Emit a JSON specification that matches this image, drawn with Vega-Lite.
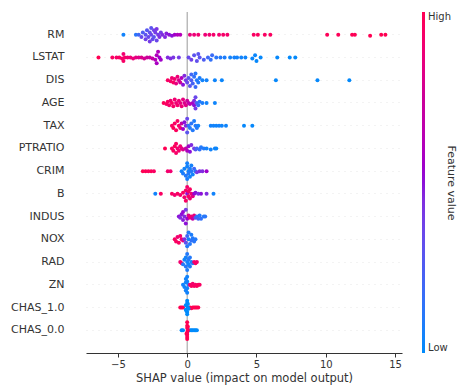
{
"$schema":"https://vega.github.io/schema/vega-lite/v6.json",
"width":316,"height":341,"autosize":"none",
"padding":{"left":86,"top":12,"right":72,"bottom":35},
"config":{"view":{"stroke":null},"font":"DejaVu Sans"},
"layer":[
{"data":{"values":[{}]},"mark":{"type":"rule","color":"#999999","strokeWidth":1},"encoding":{"x":{"datum":0,"type":"quantitative"}}},
{"data":{"values":[
{"f":"RM","s":-4.6,"v":0.05,"o":0},{"f":"RM","s":-3.7,"v":0.12,"o":0},{"f":"RM","s":-3.5,"v":0.2,"o":0},{"f":"RM","s":-3.3,"v":0.35,"o":0.1},{"f":"RM","s":-3.2,"v":0.25,"o":-0.1},{"f":"RM","s":-3.0,"v":0.3,"o":0},{"f":"RM","s":-3.0,"v":0.38,"o":0.2},{"f":"RM","s":-2.9,"v":0.28,"o":-0.2},{"f":"RM","s":-2.8,"v":0.35,"o":0.1},{"f":"RM","s":-2.7,"v":0.32,"o":-0.1},{"f":"RM","s":-2.7,"v":0.4,"o":0.3},{"f":"RM","s":-2.6,"v":0.3,"o":-0.3},{"f":"RM","s":-2.6,"v":0.36,"o":0},{"f":"RM","s":-2.5,"v":0.34,"o":0.2},{"f":"RM","s":-2.4,"v":0.38,"o":-0.2},{"f":"RM","s":-2.4,"v":0.3,"o":0.1},{"f":"RM","s":-2.3,"v":0.4,"o":-0.1},{"f":"RM","s":-2.2,"v":0.36,"o":0.25},{"f":"RM","s":-2.2,"v":0.42,"o":-0.25},{"f":"RM","s":-2.1,"v":0.4,"o":0},{"f":"RM","s":-2.0,"v":0.44,"o":0.1},{"f":"RM","s":-1.9,"v":0.4,"o":-0.1},{"f":"RM","s":-1.8,"v":0.45,"o":0},{"f":"RM","s":-1.6,"v":0.46,"o":0.1},{"f":"RM","s":-1.5,"v":0.48,"o":-0.05},{"f":"RM","s":-1.3,"v":0.5,"o":0},{"f":"RM","s":-1.1,"v":0.5,"o":0.05},{"f":"RM","s":-0.9,"v":0.55,"o":0},{"f":"RM","s":-0.7,"v":0.6,"o":0},{"f":"RM","s":-0.5,"v":0.62,"o":0},
{"f":"RM","s":0.2,"v":0.85,"o":0},{"f":"RM","s":0.5,"v":0.88,"o":0},{"f":"RM","s":0.8,"v":0.9,"o":0},{"f":"RM","s":1.3,"v":0.88,"o":0},{"f":"RM","s":1.6,"v":0.9,"o":0},{"f":"RM","s":1.9,"v":0.92,"o":0},{"f":"RM","s":2.3,"v":0.9,"o":0},{"f":"RM","s":2.6,"v":0.93,"o":0},{"f":"RM","s":2.9,"v":0.92,"o":0},{"f":"RM","s":4.8,"v":0.95,"o":0},{"f":"RM","s":5.1,"v":0.96,"o":0},{"f":"RM","s":5.6,"v":0.95,"o":0},{"f":"RM","s":6.0,"v":0.96,"o":0},{"f":"RM","s":10.1,"v":0.98,"o":0},{"f":"RM","s":10.9,"v":0.98,"o":0},{"f":"RM","s":11.9,"v":0.99,"o":0},{"f":"RM","s":12.1,"v":0.99,"o":0},{"f":"RM","s":13.2,"v":1,"o":0.05},{"f":"RM","s":14.0,"v":1,"o":0},{"f":"RM","s":14.3,"v":1,"o":0},
{"f":"LSTAT","s":-6.4,"v":1,"o":0},{"f":"LSTAT","s":-5.4,"v":0.95,"o":0},{"f":"LSTAT","s":-5.1,"v":0.93,"o":0},{"f":"LSTAT","s":-4.9,"v":0.95,"o":0},{"f":"LSTAT","s":-4.7,"v":0.92,"o":0.05},{"f":"LSTAT","s":-4.6,"v":0.94,"o":0.15},{"f":"LSTAT","s":-4.6,"v":0.9,"o":-0.15},{"f":"LSTAT","s":-4.5,"v":0.93,"o":0},{"f":"LSTAT","s":-4.3,"v":0.9,"o":0},{"f":"LSTAT","s":-4.1,"v":0.88,"o":0},{"f":"LSTAT","s":-3.9,"v":0.87,"o":0.05},{"f":"LSTAT","s":-3.7,"v":0.85,"o":0},{"f":"LSTAT","s":-3.5,"v":0.82,"o":0},{"f":"LSTAT","s":-3.3,"v":0.8,"o":0},{"f":"LSTAT","s":-3.1,"v":0.78,"o":0.05},{"f":"LSTAT","s":-2.9,"v":0.75,"o":0},{"f":"LSTAT","s":-2.7,"v":0.72,"o":0},{"f":"LSTAT","s":-2.5,"v":0.7,"o":0.05},{"f":"LSTAT","s":-2.3,"v":0.62,"o":0.1},{"f":"LSTAT","s":-2.2,"v":0.6,"o":-0.1},{"f":"LSTAT","s":-2.2,"v":0.58,"o":0.25},{"f":"LSTAT","s":-2.1,"v":0.6,"o":-0.25},{"f":"LSTAT","s":-2.0,"v":0.55,"o":0},{"f":"LSTAT","s":-1.9,"v":0.55,"o":0.1},{"f":"LSTAT","s":-1.4,"v":0.45,"o":0},{"f":"LSTAT","s":-1.2,"v":0.45,"o":0.05},{"f":"LSTAT","s":-1.0,"v":0.42,"o":0},{"f":"LSTAT","s":-0.6,"v":0.4,"o":0},
{"f":"LSTAT","s":0.1,"v":0.35,"o":0},{"f":"LSTAT","s":0.3,"v":0.38,"o":0.1},{"f":"LSTAT","s":0.5,"v":0.3,"o":-0.1},{"f":"LSTAT","s":0.7,"v":0.32,"o":0.15},{"f":"LSTAT","s":0.8,"v":0.3,"o":-0.15},{"f":"LSTAT","s":0.9,"v":0.3,"o":0},{"f":"LSTAT","s":1.2,"v":0.25,"o":0.1},{"f":"LSTAT","s":1.5,"v":0.2,"o":0},{"f":"LSTAT","s":1.7,"v":0.15,"o":0.1},{"f":"LSTAT","s":1.8,"v":0.18,"o":-0.1},{"f":"LSTAT","s":2.1,"v":0.12,"o":0},{"f":"LSTAT","s":2.4,"v":0.1,"o":0},{"f":"LSTAT","s":2.7,"v":0.08,"o":0},{"f":"LSTAT","s":3.1,"v":0.05,"o":0},{"f":"LSTAT","s":3.4,"v":0.06,"o":0},{"f":"LSTAT","s":3.6,"v":0.05,"o":0},{"f":"LSTAT","s":3.9,"v":0.05,"o":0},{"f":"LSTAT","s":4.2,"v":0.04,"o":0},{"f":"LSTAT","s":4.7,"v":0.03,"o":0.05},{"f":"LSTAT","s":4.9,"v":0.03,"o":-0.1},{"f":"LSTAT","s":5.0,"v":0.02,"o":0.15},{"f":"LSTAT","s":5.3,"v":0.02,"o":0},{"f":"LSTAT","s":6.5,"v":0.02,"o":0},{"f":"LSTAT","s":7.4,"v":0.01,"o":0},{"f":"LSTAT","s":7.8,"v":0.01,"o":0},
{"f":"DIS","s":-1.4,"v":0.95,"o":0},{"f":"DIS","s":-1.2,"v":0.92,"o":0.05},{"f":"DIS","s":-1.1,"v":0.9,"o":-0.1},{"f":"DIS","s":-1.0,"v":0.95,"o":0.1},{"f":"DIS","s":-0.9,"v":0.9,"o":-0.05},{"f":"DIS","s":-0.8,"v":0.85,"o":0.15},{"f":"DIS","s":-0.7,"v":0.88,"o":-0.15},{"f":"DIS","s":-0.6,"v":0.8,"o":0},{"f":"DIS","s":-0.5,"v":0.75,"o":0.1},{"f":"DIS","s":-0.4,"v":0.6,"o":-0.1},{"f":"DIS","s":-0.3,"v":0.5,"o":0.2},{"f":"DIS","s":-0.2,"v":0.45,"o":-0.2},{"f":"DIS","s":-0.1,"v":0.4,"o":0},{"f":"DIS","s":0.0,"v":0.35,"o":0.1},{"f":"DIS","s":0.1,"v":0.3,"o":-0.1},{"f":"DIS","s":0.2,"v":0.3,"o":0.25},{"f":"DIS","s":0.3,"v":0.2,"o":-0.25},{"f":"DIS","s":0.3,"v":0.25,"o":0},{"f":"DIS","s":0.4,"v":0.22,"o":0.15},{"f":"DIS","s":0.5,"v":0.15,"o":-0.15},{"f":"DIS","s":0.6,"v":0.18,"o":0.3},{"f":"DIS","s":0.6,"v":0.12,"o":-0.3},{"f":"DIS","s":0.7,"v":0.1,"o":0},{"f":"DIS","s":0.8,"v":0.1,"o":0.1},{"f":"DIS","s":0.9,"v":0.08,"o":-0.1},{"f":"DIS","s":1.1,"v":0.05,"o":0},{"f":"DIS","s":1.4,"v":0.05,"o":0},{"f":"DIS","s":2.0,"v":0.04,"o":0},{"f":"DIS","s":2.5,"v":0.03,"o":0},{"f":"DIS","s":6.4,"v":0.02,"o":0},{"f":"DIS","s":9.4,"v":0.02,"o":0},{"f":"DIS","s":11.7,"v":0.01,"o":0},
{"f":"AGE","s":-1.7,"v":0.98,"o":0},{"f":"AGE","s":-1.5,"v":0.95,"o":0.05},{"f":"AGE","s":-1.4,"v":0.95,"o":-0.05},{"f":"AGE","s":-1.3,"v":0.92,"o":0.1},{"f":"AGE","s":-1.2,"v":0.9,"o":-0.1},{"f":"AGE","s":-1.1,"v":0.95,"o":0},{"f":"AGE","s":-1.0,"v":0.93,"o":0.15},{"f":"AGE","s":-0.9,"v":0.9,"o":-0.15},{"f":"AGE","s":-0.8,"v":0.88,"o":0},{"f":"AGE","s":-0.7,"v":0.92,"o":0.1},{"f":"AGE","s":-0.6,"v":0.9,"o":-0.1},{"f":"AGE","s":-0.5,"v":0.85,"o":0},{"f":"AGE","s":-0.4,"v":0.88,"o":0.15},{"f":"AGE","s":-0.3,"v":0.85,"o":-0.15},{"f":"AGE","s":-0.2,"v":0.8,"o":0},{"f":"AGE","s":-0.1,"v":0.82,"o":0.1},{"f":"AGE","s":0.0,"v":0.75,"o":-0.1},{"f":"AGE","s":0.1,"v":0.7,"o":0},{"f":"AGE","s":0.2,"v":0.65,"o":0.05},{"f":"AGE","s":0.4,"v":0.6,"o":0},{"f":"AGE","s":0.5,"v":0.5,"o":0.1},{"f":"AGE","s":0.5,"v":0.45,"o":-0.1},{"f":"AGE","s":0.6,"v":0.4,"o":0.25},{"f":"AGE","s":0.6,"v":0.35,"o":-0.25},{"f":"AGE","s":0.7,"v":0.2,"o":0},{"f":"AGE","s":0.8,"v":0.15,"o":0.1},{"f":"AGE","s":0.9,"v":0.1,"o":-0.05},{"f":"AGE","s":1.1,"v":0.08,"o":0},{"f":"AGE","s":1.4,"v":0.05,"o":0},{"f":"AGE","s":2.0,"v":0.04,"o":0},
{"f":"TAX","s":-1.1,"v":0.95,"o":0},{"f":"TAX","s":-1.0,"v":0.98,"o":0.1},{"f":"TAX","s":-0.9,"v":0.95,"o":-0.1},{"f":"TAX","s":-0.8,"v":0.97,"o":0.2},{"f":"TAX","s":-0.7,"v":0.95,"o":-0.2},{"f":"TAX","s":-0.6,"v":0.93,"o":0},{"f":"TAX","s":-0.5,"v":0.9,"o":0.1},{"f":"TAX","s":-0.4,"v":0.7,"o":-0.1},{"f":"TAX","s":-0.3,"v":0.55,"o":0.15},{"f":"TAX","s":-0.2,"v":0.5,"o":-0.15},{"f":"TAX","s":-0.1,"v":0.45,"o":0},{"f":"TAX","s":0.0,"v":0.3,"o":0.3},{"f":"TAX","s":0.0,"v":0.35,"o":-0.3},{"f":"TAX","s":0.1,"v":0.15,"o":0},{"f":"TAX","s":0.2,"v":0.1,"o":0.1},{"f":"TAX","s":0.3,"v":0.12,"o":-0.1},{"f":"TAX","s":0.4,"v":0.1,"o":0.2},{"f":"TAX","s":0.5,"v":0.08,"o":-0.2},{"f":"TAX","s":0.6,"v":0.1,"o":0},{"f":"TAX","s":0.7,"v":0.1,"o":0.1},{"f":"TAX","s":0.8,"v":0.05,"o":0},{"f":"TAX","s":1.7,"v":0.05,"o":0},{"f":"TAX","s":1.9,"v":0.05,"o":0},{"f":"TAX","s":2.1,"v":0.04,"o":0},{"f":"TAX","s":2.3,"v":0.05,"o":0},{"f":"TAX","s":2.5,"v":0.04,"o":0},{"f":"TAX","s":2.8,"v":0.04,"o":0},{"f":"TAX","s":4.1,"v":0.02,"o":0},{"f":"TAX","s":4.7,"v":0.02,"o":0},
{"f":"PTRATIO","s":-1.6,"v":1,"o":0},{"f":"PTRATIO","s":-1.1,"v":0.95,"o":0},{"f":"PTRATIO","s":-1.0,"v":0.95,"o":0.1},{"f":"PTRATIO","s":-0.9,"v":0.98,"o":-0.1},{"f":"PTRATIO","s":-0.8,"v":0.93,"o":0.2},{"f":"PTRATIO","s":-0.8,"v":0.95,"o":-0.2},{"f":"PTRATIO","s":-0.7,"v":0.9,"o":0},{"f":"PTRATIO","s":-0.6,"v":0.92,"o":0.1},{"f":"PTRATIO","s":-0.5,"v":0.9,"o":-0.1},{"f":"PTRATIO","s":-0.4,"v":0.85,"o":0},{"f":"PTRATIO","s":-0.3,"v":0.8,"o":0.05},{"f":"PTRATIO","s":-0.1,"v":0.7,"o":0},{"f":"PTRATIO","s":0.0,"v":0.6,"o":0.1},{"f":"PTRATIO","s":0.1,"v":0.55,"o":-0.1},{"f":"PTRATIO","s":0.2,"v":0.5,"o":0.15},{"f":"PTRATIO","s":0.3,"v":0.45,"o":-0.15},{"f":"PTRATIO","s":0.5,"v":0.4,"o":0},{"f":"PTRATIO","s":0.6,"v":0.3,"o":0.05},{"f":"PTRATIO","s":0.7,"v":0.2,"o":0},{"f":"PTRATIO","s":0.9,"v":0.15,"o":0.05},{"f":"PTRATIO","s":1.0,"v":0.1,"o":-0.05},{"f":"PTRATIO","s":1.2,"v":0.1,"o":0},{"f":"PTRATIO","s":1.4,"v":0.05,"o":0},{"f":"PTRATIO","s":1.7,"v":0.05,"o":0.05},{"f":"PTRATIO","s":2.0,"v":0.04,"o":0},{"f":"PTRATIO","s":2.1,"v":0.03,"o":0},
{"f":"CRIM","s":-3.2,"v":1,"o":0},{"f":"CRIM","s":-3.0,"v":0.98,"o":0},{"f":"CRIM","s":-2.8,"v":0.97,"o":0},{"f":"CRIM","s":-2.6,"v":0.98,"o":0},{"f":"CRIM","s":-2.4,"v":0.95,"o":0},{"f":"CRIM","s":-1.4,"v":0.92,"o":0},{"f":"CRIM","s":-1.2,"v":0.9,"o":0},{"f":"CRIM","s":-0.4,"v":0.05,"o":0},{"f":"CRIM","s":-0.3,"v":0.08,"o":0.1},{"f":"CRIM","s":-0.2,"v":0.05,"o":-0.1},{"f":"CRIM","s":-0.1,"v":0.1,"o":0.2},{"f":"CRIM","s":0.0,"v":0.05,"o":-0.2},{"f":"CRIM","s":0.0,"v":0.08,"o":0.35},{"f":"CRIM","s":0.0,"v":0.06,"o":-0.35},{"f":"CRIM","s":0.1,"v":0.05,"o":0},{"f":"CRIM","s":0.1,"v":0.1,"o":0.1},{"f":"CRIM","s":0.2,"v":0.08,"o":-0.1},{"f":"CRIM","s":0.2,"v":0.05,"o":0.25},{"f":"CRIM","s":0.3,"v":0.06,"o":-0.25},{"f":"CRIM","s":0.3,"v":0.1,"o":0},{"f":"CRIM","s":0.4,"v":0.05,"o":0.15},{"f":"CRIM","s":0.5,"v":0.2,"o":-0.1},{"f":"CRIM","s":0.6,"v":0.1,"o":0},{"f":"CRIM","s":0.7,"v":0.4,"o":0.05},{"f":"CRIM","s":0.9,"v":0.45,"o":0},{"f":"CRIM","s":1.1,"v":0.45,"o":0},{"f":"CRIM","s":1.4,"v":0.55,"o":0},
{"f":"B","s":-2.3,"v":0.05,"o":0},{"f":"B","s":-1.9,"v":0.95,"o":0},{"f":"B","s":-1.1,"v":0.95,"o":0},{"f":"B","s":-0.9,"v":0.9,"o":0.05},{"f":"B","s":-0.7,"v":0.95,"o":0},{"f":"B","s":-0.5,"v":0.92,"o":0.05},{"f":"B","s":-0.3,"v":0.95,"o":-0.05},{"f":"B","s":-0.2,"v":0.9,"o":0.15},{"f":"B","s":-0.1,"v":0.93,"o":-0.15},{"f":"B","s":-0.1,"v":0.95,"o":0.3},{"f":"B","s":0.0,"v":0.92,"o":-0.3},{"f":"B","s":0.0,"v":0.5,"o":0},{"f":"B","s":0.1,"v":0.95,"o":0.1},{"f":"B","s":0.1,"v":0.93,"o":-0.1},{"f":"B","s":0.2,"v":0.9,"o":0.2},{"f":"B","s":0.2,"v":0.95,"o":-0.2},{"f":"B","s":0.3,"v":0.9,"o":0},{"f":"B","s":0.4,"v":0.85,"o":0.1},{"f":"B","s":0.5,"v":0.55,"o":0},{"f":"B","s":0.6,"v":0.5,"o":-0.05},{"f":"B","s":0.8,"v":0.45,"o":0},{"f":"B","s":1.0,"v":0.5,"o":0},{"f":"B","s":1.4,"v":0.45,"o":0},{"f":"B","s":1.9,"v":0.05,"o":0},
{"f":"INDUS","s":-0.6,"v":0.5,"o":0},{"f":"INDUS","s":-0.5,"v":0.45,"o":0.05},{"f":"INDUS","s":-0.4,"v":0.5,"o":-0.1},{"f":"INDUS","s":-0.3,"v":0.48,"o":0.15},{"f":"INDUS","s":-0.3,"v":0.52,"o":-0.2},{"f":"INDUS","s":-0.2,"v":0.45,"o":0},{"f":"INDUS","s":-0.1,"v":0.5,"o":0.3},{"f":"INDUS","s":-0.1,"v":0.4,"o":-0.3},{"f":"INDUS","s":0.0,"v":0.55,"o":0.1},{"f":"INDUS","s":0.1,"v":0.8,"o":-0.05},{"f":"INDUS","s":0.2,"v":0.85,"o":0.05},{"f":"INDUS","s":0.3,"v":0.9,"o":0},{"f":"INDUS","s":0.4,"v":0.7,"o":0.1},{"f":"INDUS","s":0.5,"v":0.85,"o":-0.05},{"f":"INDUS","s":0.6,"v":0.3,"o":0.05},{"f":"INDUS","s":0.7,"v":0.15,"o":0},{"f":"INDUS","s":0.8,"v":0.2,"o":0.1},{"f":"INDUS","s":0.9,"v":0.1,"o":-0.05},{"f":"INDUS","s":1.0,"v":0.15,"o":0.1},{"f":"INDUS","s":1.2,"v":0.1,"o":0},{"f":"INDUS","s":1.3,"v":0.12,"o":0},
{"f":"NOX","s":-0.9,"v":0.95,"o":0},{"f":"NOX","s":-0.8,"v":0.95,"o":0.1},{"f":"NOX","s":-0.7,"v":0.9,"o":-0.1},{"f":"NOX","s":-0.6,"v":0.95,"o":0.15},{"f":"NOX","s":-0.5,"v":0.92,"o":-0.15},{"f":"NOX","s":-0.4,"v":0.9,"o":0},{"f":"NOX","s":-0.3,"v":0.85,"o":0.05},{"f":"NOX","s":-0.2,"v":0.45,"o":0},{"f":"NOX","s":-0.1,"v":0.3,"o":0.15},{"f":"NOX","s":0.0,"v":0.2,"o":-0.15},{"f":"NOX","s":0.0,"v":0.1,"o":0.3},{"f":"NOX","s":0.1,"v":0.1,"o":-0.3},{"f":"NOX","s":0.1,"v":0.05,"o":0},{"f":"NOX","s":0.2,"v":0.1,"o":0.2},{"f":"NOX","s":0.3,"v":0.08,"o":-0.2},{"f":"NOX","s":0.3,"v":0.15,"o":0.05},{"f":"NOX","s":0.4,"v":0.1,"o":-0.05},{"f":"NOX","s":0.5,"v":0.12,"o":0.1},{"f":"NOX","s":0.6,"v":0.1,"o":0},
{"f":"RAD","s":-0.5,"v":0.9,"o":0},{"f":"RAD","s":-0.4,"v":0.95,"o":0.05},{"f":"RAD","s":-0.3,"v":0.1,"o":0.1},{"f":"RAD","s":-0.2,"v":0.05,"o":-0.1},{"f":"RAD","s":-0.1,"v":0.1,"o":0.2},{"f":"RAD","s":-0.1,"v":0.05,"o":-0.2},{"f":"RAD","s":0.0,"v":0.08,"o":0.35},{"f":"RAD","s":0.0,"v":0.1,"o":-0.35},{"f":"RAD","s":0.0,"v":0.05,"o":0},{"f":"RAD","s":0.1,"v":0.05,"o":0.1},{"f":"RAD","s":0.1,"v":0.1,"o":-0.1},{"f":"RAD","s":0.2,"v":0.08,"o":0.2},{"f":"RAD","s":0.2,"v":0.1,"o":-0.2},{"f":"RAD","s":0.3,"v":0.05,"o":0},{"f":"RAD","s":0.4,"v":0.1,"o":0.05},{"f":"RAD","s":0.5,"v":0.9,"o":0},{"f":"RAD","s":0.6,"v":0.95,"o":0.05},{"f":"RAD","s":0.7,"v":0.92,"o":0},
{"f":"ZN","s":-0.3,"v":0.05,"o":0},{"f":"ZN","s":-0.2,"v":0.05,"o":0.1},{"f":"ZN","s":-0.1,"v":0.05,"o":-0.1},{"f":"ZN","s":-0.1,"v":0.05,"o":0.25},{"f":"ZN","s":-0.1,"v":0.05,"o":-0.25},{"f":"ZN","s":0.0,"v":0.05,"o":0.35},{"f":"ZN","s":0.0,"v":0.05,"o":-0.35},{"f":"ZN","s":0.0,"v":0.05,"o":0.15},{"f":"ZN","s":0.0,"v":0.05,"o":-0.15},{"f":"ZN","s":0.1,"v":0.08,"o":0},{"f":"ZN","s":0.2,"v":0.9,"o":0},{"f":"ZN","s":0.3,"v":0.95,"o":0.05},{"f":"ZN","s":0.4,"v":0.92,"o":-0.05},{"f":"ZN","s":0.5,"v":0.95,"o":0.05},{"f":"ZN","s":0.6,"v":0.93,"o":0},{"f":"ZN","s":0.7,"v":0.95,"o":0.05},{"f":"ZN","s":0.8,"v":0.98,"o":0},{"f":"ZN","s":0.9,"v":0.95,"o":0},
{"f":"CHAS_1.0","s":-0.5,"v":1,"o":0},{"f":"CHAS_1.0","s":-0.4,"v":1,"o":0},{"f":"CHAS_1.0","s":-0.3,"v":1,"o":0},{"f":"CHAS_1.0","s":0.2,"v":1,"o":0},{"f":"CHAS_1.0","s":0.3,"v":1,"o":0.03},{"f":"CHAS_1.0","s":0.4,"v":1,"o":0},{"f":"CHAS_1.0","s":0.5,"v":1,"o":0},{"f":"CHAS_1.0","s":0.6,"v":1,"o":0},{"f":"CHAS_1.0","s":0.7,"v":1,"o":0},{"f":"CHAS_1.0","s":0.8,"v":1,"o":0},
{"f":"CHAS_1.0","s":-0.1,"v":0,"o":0.1},{"f":"CHAS_1.0","s":-0.1,"v":0,"o":-0.1},{"f":"CHAS_1.0","s":0.0,"v":0,"o":0.2},{"f":"CHAS_1.0","s":0.0,"v":0,"o":-0.2},{"f":"CHAS_1.0","s":0.0,"v":0,"o":0.3},{"f":"CHAS_1.0","s":0.0,"v":0,"o":-0.3},{"f":"CHAS_1.0","s":0.05,"v":0,"o":0},{"f":"CHAS_1.0","s":-0.05,"v":0,"o":0.15},{"f":"CHAS_1.0","s":0.05,"v":0,"o":-0.15},{"f":"CHAS_1.0","s":0.1,"v":0,"o":0.05},
{"f":"CHAS_0.0","s":-0.4,"v":0,"o":0},{"f":"CHAS_0.0","s":-0.3,"v":0,"o":0},{"f":"CHAS_0.0","s":0.2,"v":0,"o":0},{"f":"CHAS_0.0","s":0.3,"v":0,"o":0},{"f":"CHAS_0.0","s":0.4,"v":0,"o":0},{"f":"CHAS_0.0","s":0.5,"v":0,"o":0},{"f":"CHAS_0.0","s":0.6,"v":0,"o":0},{"f":"CHAS_0.0","s":0.7,"v":0,"o":0},
{"f":"CHAS_0.0","s":0.0,"v":1,"o":0.1},{"f":"CHAS_0.0","s":0.0,"v":1,"o":-0.1},{"f":"CHAS_0.0","s":0.0,"v":1,"o":0.2},{"f":"CHAS_0.0","s":0.0,"v":1,"o":-0.2},{"f":"CHAS_0.0","s":0.0,"v":1,"o":0.3},{"f":"CHAS_0.0","s":0.0,"v":1,"o":-0.35},{"f":"CHAS_0.0","s":0.05,"v":1,"o":0},{"f":"CHAS_0.0","s":-0.05,"v":1,"o":0.15},{"f":"CHAS_0.0","s":0.05,"v":1,"o":-0.15},{"f":"CHAS_0.0","s":0.0,"v":1,"o":0.38}
]},
"mark":{"type":"circle","size":16,"opacity":1},
"encoding":{
"x":{"field":"s","type":"quantitative","scale":{"domain":[-7.3,15.5],"nice":false,"zero":false},
 "axis":{"title":"SHAP value (impact on model output)","values":[-5,0,5,10,15],"grid":false,"domainColor":"#333333","tickColor":"#333333","labelColor":"#333333","titleColor":"#333333","labelFontSize":10,"titleFontSize":11.5,"titleFontWeight":"normal","tickSize":4,"labelPadding":2,"titlePadding":3}},
"y":{"field":"f","type":"nominal","sort":["RM","LSTAT","DIS","AGE","TAX","PTRATIO","CRIM","B","INDUS","NOX","RAD","ZN","CHAS_1.0","CHAS_0.0"],
 "scale":{"paddingInner":0,"paddingOuter":0.5},
 "axis":{"title":null,"domain":false,"ticks":false,"grid":true,"gridColor":"#cccccc","gridDash":[1,5],"gridWidth":0.5,"bandPosition":0.5,"labelFontSize":11,"labelColor":"#333333","labelPadding":22}},
"yOffset":{"field":"o","type":"quantitative","scale":{"domain":[-0.5,0.5]}},
"color":{"field":"v","type":"quantitative","scale":{"domain":[0,0.25,0.5,0.75,1],"range":["#008bfb","#4d5cf2","#8c10d8","#cc0098","#ff0052"]},
 "legend":{"title":"Feature value","orient":"none","legendX":336,"legendY":0,"direction":"vertical","gradientLength":341,"gradientThickness":3,"values":[0,1],"labelExpr":"datum.value==1?'High':'Low'","labelBaseline":"middle","labelFontSize":10,"labelColor":"#333333","labelOffset":3,"titleOrient":"right","titleAngle":270,"titleAnchor":"middle","titleBaseline":"top","titleFontSize":11,"titleFontWeight":"normal","titleColor":"#333333","titlePadding":6}}
}}
]
}
